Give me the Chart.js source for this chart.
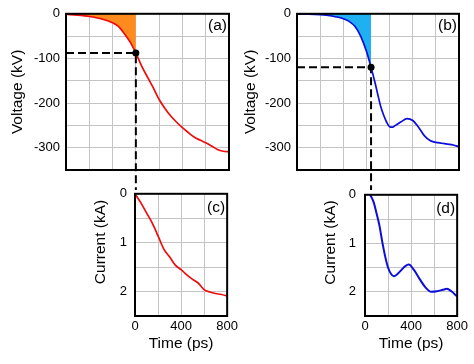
<!DOCTYPE html>
<html>
<head>
<meta charset="utf-8">
<script src="https://cdn.jsdelivr.net/npm/chart.js@4.4.1/dist/chart.umd.min.js"></script>
<style>
  html, body { margin: 0; padding: 0; background: #fff; }
  #wrap { position: relative; width: 474px; height: 364px; overflow: hidden; }
  canvas { position: absolute; }
</style>
</head>
<body>
<div id="wrap">
  <canvas id="chart-a" width="235" height="190" style="left:0;top:0"></canvas>
  <canvas id="chart-b" width="235" height="190" style="left:232px;top:0"></canvas>
  <canvas id="chart-c" width="181" height="186" style="left:60px;top:178px"></canvas>
  <canvas id="chart-d" width="181" height="186" style="left:290px;top:178px"></canvas>
</div>
<script>
// (a) voltage, red
const timeA = [-600, -500, -400, -300, -200, -150, -100, -50, 0, 50, 100, 150, 200, 250, 300, 350, 400, 450, 500, 550, 600, 650, 700, 750, 800];
const voltA = [-1, -3, -6, -11, -20, -28, -44, -63, -88, -117, -142, -166, -192, -212, -229, -243, -255, -266, -276, -283, -289, -296, -304, -308, -309];
const markA = [0, -88];

// (b) voltage, blue
const timeB = [-600, -500, -400, -300, -200, -150, -100, -50, 0, 40, 75, 100, 125, 150, 175, 200, 225, 250, 300, 350, 400, 450, 500, 550, 600, 650, 700, 750, 800];
const voltB = [-1, -1, -2, -5, -11, -17, -28, -50, -84, -120, -155, -183, -209, -228, -243, -253, -254, -250, -242, -235, -239, -254, -273, -284, -288, -290, -292, -294, -298];
const markB = [40, -120];

// (c) current, red
const timeC = [0, 50, 100, 150, 200, 250, 300, 350, 400, 450, 500, 550, 600, 650, 700, 750, 800];
const currC = [0, 0.18, 0.39, 0.6, 0.86, 1.13, 1.29, 1.46, 1.55, 1.66, 1.75, 1.83, 1.96, 2.01, 2.04, 2.06, 2.09];

// (d) current, blue
const timeD = [45, 75, 100, 125, 150, 175, 200, 225, 250, 275, 300, 350, 380, 425, 475, 525, 575, 625, 675, 710, 750, 800];
const currD = [0, 0.15, 0.38, 0.63, 0.97, 1.27, 1.5, 1.63, 1.68, 1.65, 1.59, 1.47, 1.44, 1.55, 1.74, 1.91, 2.0, 1.99, 1.96, 1.94, 1.99, 2.1];

// tick labels
const voltTicks = [0, -100, -200, -300];
const currTicks = [0, 1, 2];
const timeTicks = [0, 400, 800];

const fontFamily = "'Liberation Sans', Arial, sans-serif";
Chart.defaults.font.family = fontFamily;
Chart.defaults.color = "#000";
const gridColor = "#c4c4c4";

// box around plot area + "(a)" style label
const frame = {
  id: "frame",
  afterDraw(chart, args, opts) {
    const { ctx, chartArea: a } = chart;
    ctx.save();
    ctx.strokeStyle = "#000";
    ctx.lineWidth = 2;
    ctx.strokeRect(a.left, a.top, a.right - a.left, a.bottom - a.top);
    ctx.font = "15.5px " + fontFamily;
    ctx.fillStyle = "#000";
    ctx.textAlign = "right";
    ctx.textBaseline = "top";
    ctx.fillText(opts.label, a.right - 2, a.top + opts.dy);
    ctx.restore();
  },
};

// dashed lines from the marker to the left edge and down to the lower panel
const guide = {
  id: "guide",
  beforeDatasetsDraw(chart, args, opts) {
    if (!opts.at) return;
    const { ctx, chartArea: a, scales } = chart;
    const px = scales.x.getPixelForValue(opts.at[0]);
    const py = scales.y.getPixelForValue(opts.at[1]);
    ctx.save();
    ctx.strokeStyle = "#000";
    ctx.lineWidth = 2;
    ctx.setLineDash([8, 4]);
    ctx.beginPath();
    ctx.moveTo(a.left, py);
    ctx.lineTo(px, py);
    ctx.lineTo(px, chart.height);
    ctx.stroke();
    ctx.restore();
  },
};

function voltChart(id, times, volts, mark, color, fillColor, label, yWidth, titlePad, padRight) {
  const pts = times.map((t, i) => ({ x: t, y: volts[i] }));
  return new Chart(document.getElementById(id), {
    type: "line",
    data: {
      datasets: [
        {
          data: [{ x: mark[0], y: mark[1] }],
          showLine: false,
          pointRadius: 3.5,
          pointBorderWidth: 0,
          pointBackgroundColor: "#000",
        },
        {
          data: pts,
          borderColor: color,
          borderWidth: 1.7,
          pointRadius: 0,
          cubicInterpolationMode: "monotone",
          fill: false,
        },
        {
          data: pts.filter((p) => p.x <= mark[0]),
          borderWidth: 0,
          borderColor: "rgba(0,0,0,0)",
          backgroundColor: fillColor,
          pointRadius: 0,
          cubicInterpolationMode: "monotone",
          fill: "origin",
        },
      ],
    },
    options: {
      responsive: false,
      animation: false,
      layout: { padding: { top: 10, right: padRight, bottom: 20, left: 0 } },
      plugins: {
        legend: { display: false },
        tooltip: { enabled: false },
        frame: { label: label, dy: 4 },
        guide: { at: mark },
      },
      scales: {
        x: {
          type: "linear",
          min: -600,
          max: 800,
          ticks: { display: false, stepSize: 200, autoSkip: false },
          grid: { color: gridColor, drawTicks: false },
          border: { display: false },
          afterFit: (s) => { s.height = 0; },
        },
        y: {
          min: -350,
          max: 0,
          ticks: {
            stepSize: 50,
            autoSkip: false,
            padding: 6,
            font: { size: 13 },
            callback: (v) => (voltTicks.includes(v) ? String(v) : ""),
          },
          grid: { color: gridColor, drawTicks: false },
          border: { display: false },
          title: {
            display: true,
            text: "Voltage (kV)",
            font: { size: 15.5 },
            padding: { top: titlePad, bottom: 0 },
          },
          afterFit: (s) => { s.width = yWidth; },
        },
      },
    },
    plugins: [frame, guide],
  });
}

function currChart(id, times, currs, color, width, label, tickPad) {
  const pts = times.map((t, i) => ({ x: t, y: currs[i] }));
  return new Chart(document.getElementById(id), {
    type: "line",
    data: {
      datasets: [
        {
          data: pts,
          borderColor: color,
          borderWidth: width,
          pointRadius: 0,
          cubicInterpolationMode: "monotone",
          fill: false,
        },
      ],
    },
    options: {
      responsive: false,
      animation: false,
      layout: { padding: { top: 10, right: 12, bottom: 0, left: 0 } },
      plugins: {
        legend: { display: false },
        tooltip: { enabled: false },
        frame: { label: label, dy: 6.5 },
      },
      scales: {
        x: {
          type: "linear",
          min: 0,
          max: 800,
          ticks: {
            stepSize: 200,
            autoSkip: false,
            maxRotation: 0,
            padding: 3,
            font: { size: 13 },
            callback: (v) => (timeTicks.includes(v) ? String(v) : ""),
          },
          grid: { color: gridColor, drawTicks: false },
          border: { display: false },
          title: {
            display: true,
            text: "Time (ps)",
            font: { size: 15.5 },
            padding: { top: 0, bottom: 10.7 },
          },
          afterFit: (s) => { s.height = 48; },
        },
        y: {
          reverse: true,
          min: 0,
          max: 2.5,
          ticks: {
            stepSize: 0.5,
            autoSkip: false,
            padding: tickPad,
            font: { size: 13 },
            callback: (v) => (currTicks.includes(v) ? String(v) : ""),
          },
          grid: { color: gridColor, drawTicks: false },
          border: { display: false },
          title: {
            display: true,
            // leading spaces lift the title a little, as in the original
            text: "      Current (kA)",
            font: { size: 15.5 },
            padding: { top: 31.7, bottom: 0 },
          },
          afterFit: (s) => { s.width = 75; },
        },
      },
    },
    plugins: [frame],
  });
}

voltChart("chart-a", timeA, voltA, markA, "rgb(240, 12, 12)", "rgb(255, 138, 30)", "(a)", 66, 8.4, 6);
voltChart("chart-b", timeB, voltB, markB, "rgb(12, 12, 220)", "rgb(30, 176, 240)", "(b)", 65, 9.7, 8);
currChart("chart-c", timeC, currC, "rgb(240, 12, 12)", 1.7, "(c)", 8);
currChart("chart-d", timeD, currD, "rgb(12, 12, 220)", 2, "(d)", 9);
</script>
</body>
</html>
